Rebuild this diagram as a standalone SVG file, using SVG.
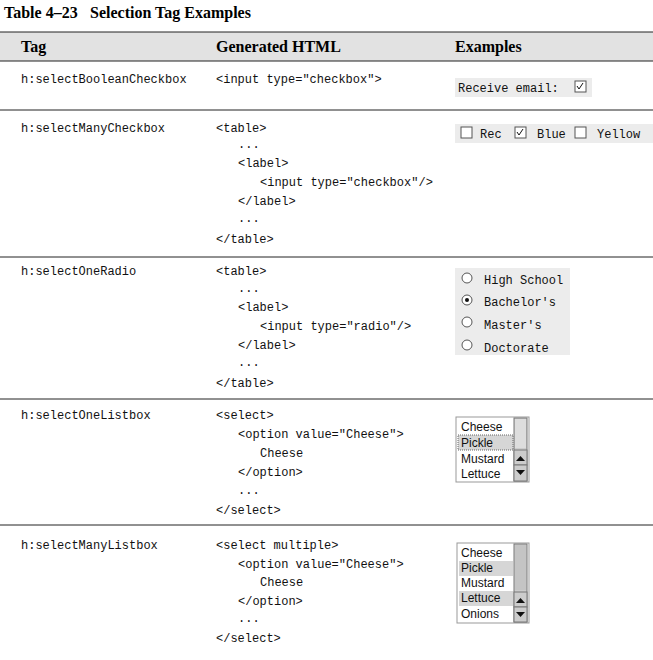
<svg xmlns="http://www.w3.org/2000/svg" width="653" height="660" viewBox="0 0 653 660">
<style>
.t{font-family:"Liberation Serif",serif;font-weight:bold;font-size:16px}
.c{font-family:"Liberation Mono",monospace;font-size:12px;fill:#111}
.s{font-family:"Liberation Sans",sans-serif;font-size:12px;fill:#111}
.l{stroke:#222;stroke-width:1}
.cb{fill:#fff;stroke:#555;stroke-width:1}
</style>
<rect width="653" height="660" fill="#fff"/>
<text x="4" y="18" class="t" font-size="17">Table 4–23</text>
<text x="90" y="18" class="t" font-size="17">Selection Tag Examples</text>
<rect x="0" y="32" width="653" height="29" fill="#e2e2e2"/>
<line x1="0" y1="32" x2="653" y2="32" class="l" stroke-width="1.5"/>
<line x1="0" y1="61" x2="653" y2="61" class="l"/>
<text x="21" y="52" class="t">Tag</text>
<text x="216" y="52" class="t">Generated HTML</text>
<text x="455" y="52" class="t">Examples</text>
<g id="separators">
<line x1="0" y1="110" x2="653" y2="110" class="l"/>
<line x1="0" y1="257" x2="653" y2="257" class="l"/>
<line x1="0" y1="399" x2="653" y2="399" class="l"/>
<line x1="0" y1="525" x2="653" y2="525" class="l"/>
</g>
<g id="row1">
<text x="21" y="83" class="c">h:selectBooleanCheckbox</text>
<text x="216" y="83" class="c">&lt;input type="checkbox"&gt;</text>
<rect x="455" y="78" width="137" height="19" fill="#ececec"/>
<text x="458" y="92" class="c">Receive email:</text>
<rect x="575" y="81" width="11" height="11" class="cb"/>
<path d="M577 86 l2 3 l4 -6" fill="none" stroke="#111"/>
</g>
<g id="row2">
<text x="21" y="132" class="c">h:selectManyCheckbox</text>
<text x="216" y="132" class="c">&lt;table&gt;</text>
<text x="238" y="148" class="c">...</text>
<text x="238" y="167" class="c">&lt;label&gt;</text>
<text x="260" y="186" class="c">&lt;input type="checkbox"/&gt;</text>
<text x="238" y="205" class="c">&lt;/label&gt;</text>
<text x="238" y="222" class="c">...</text>
<text x="216" y="243" class="c">&lt;/table&gt;</text>
<rect x="455" y="124" width="198" height="19" fill="#ececec"/>
<rect x="461" y="127" width="11" height="11" class="cb"/>
<text x="480" y="138" class="c">Rec</text>
<rect x="515" y="127" width="11" height="11" class="cb"/>
<path d="M517 132 l2 3 l4 -6" fill="none" stroke="#111"/>
<text x="537" y="138" class="c">Blue</text>
<rect x="575" y="127" width="11" height="11" class="cb"/>
<text x="597" y="138" class="c">Yellow</text>
</g>
<g id="row3">
<text x="21" y="275" class="c">h:selectOneRadio</text>
<text x="216" y="275" class="c">&lt;table&gt;</text>
<text x="238" y="292" class="c">...</text>
<text x="238" y="311" class="c">&lt;label&gt;</text>
<text x="260" y="330" class="c">&lt;input type="radio"/&gt;</text>
<text x="238" y="349" class="c">&lt;/label&gt;</text>
<text x="238" y="366" class="c">...</text>
<text x="216" y="387" class="c">&lt;/table&gt;</text>
<rect x="455" y="268" width="115" height="87" fill="#ececec"/>
<circle cx="467" cy="278" r="5" class="cb" stroke="#aaa"/>
<circle cx="467" cy="300" r="5" class="cb" stroke="#aaa"/>
<circle cx="467" cy="300" r="2" fill="#111"/>
<circle cx="467" cy="322" r="5" class="cb" stroke="#aaa"/>
<circle cx="467" cy="345" r="5" class="cb" stroke="#aaa"/>
<text x="484" y="284" class="c">High School</text>
<text x="484" y="306" class="c">Bachelor's</text>
<text x="484" y="329" class="c">Master's</text>
<text x="484" y="352" class="c">Doctorate</text>
</g>
<g id="row4">
<text x="21" y="419" class="c">h:selectOneListbox</text>
<text x="216" y="419" class="c">&lt;select&gt;</text>
<text x="238" y="438" class="c">&lt;option value="Cheese"&gt;</text>
<text x="260" y="457" class="c">Cheese</text>
<text x="238" y="476" class="c">&lt;/option&gt;</text>
<text x="238" y="494" class="c">...</text>
<text x="216" y="514" class="c">&lt;/select&gt;</text>
<rect x="456" y="417" width="73" height="65" fill="#fff" stroke="#999"/>
<rect x="458" y="435" width="55" height="15" fill="#d6d6d6" stroke="#666" stroke-dasharray="1,1"/>
<text x="461" y="431" class="s">Cheese</text>
<text x="461" y="447" class="s">Pickle</text>
<text x="461" y="463" class="s">Mustard</text>
<text x="461" y="478" class="s">Lettuce</text>
<rect x="514" y="418" width="13" height="63" fill="#ccc" stroke="#777"/>
<rect x="515" y="419" width="11" height="29" fill="#ddd"/>
<rect x="514" y="450" width="13" height="15" fill="#ccc" stroke="#777"/>
<path d="M516 461 h9 l-4.5 -5z" fill="#111"/>
<rect x="514" y="465" width="13" height="16" fill="#ccc" stroke="#777"/>
<path d="M516 470 h9 l-4.5 5z" fill="#111"/>
</g>
<g id="row5">
<text x="21" y="549" class="c">h:selectManyListbox</text>
<text x="216" y="549" class="c">&lt;select multiple&gt;</text>
<text x="238" y="568" class="c">&lt;option value="Cheese"&gt;</text>
<text x="260" y="586" class="c">Cheese</text>
<text x="238" y="605" class="c">&lt;/option&gt;</text>
<text x="238" y="622" class="c">...</text>
<text x="216" y="642" class="c">&lt;/select&gt;</text>
<rect x="457" y="543" width="72" height="80" fill="#fff" stroke="#999"/>
<rect x="459" y="561" width="54" height="15" fill="#d6d6d6"/>
<rect x="459" y="591" width="54" height="15" fill="#d6d6d6"/>
<text x="461" y="557" class="s">Cheese</text>
<text x="461" y="572" class="s">Pickle</text>
<text x="461" y="587" class="s">Mustard</text>
<text x="461" y="602" class="s">Lettuce</text>
<text x="461" y="618" class="s">Onions</text>
<rect x="514" y="544" width="13" height="78" fill="#ccc" stroke="#777"/>
<rect x="515" y="545" width="11" height="45" fill="#c4c4c4"/>
<rect x="514" y="592" width="13" height="15" fill="#ccc" stroke="#777"/>
<path d="M516 603 h9 l-4.5 -5z" fill="#111"/>
<rect x="514" y="607" width="13" height="15" fill="#ccc" stroke="#777"/>
<path d="M516 612 h9 l-4.5 5z" fill="#111"/>
</g>
</svg>
